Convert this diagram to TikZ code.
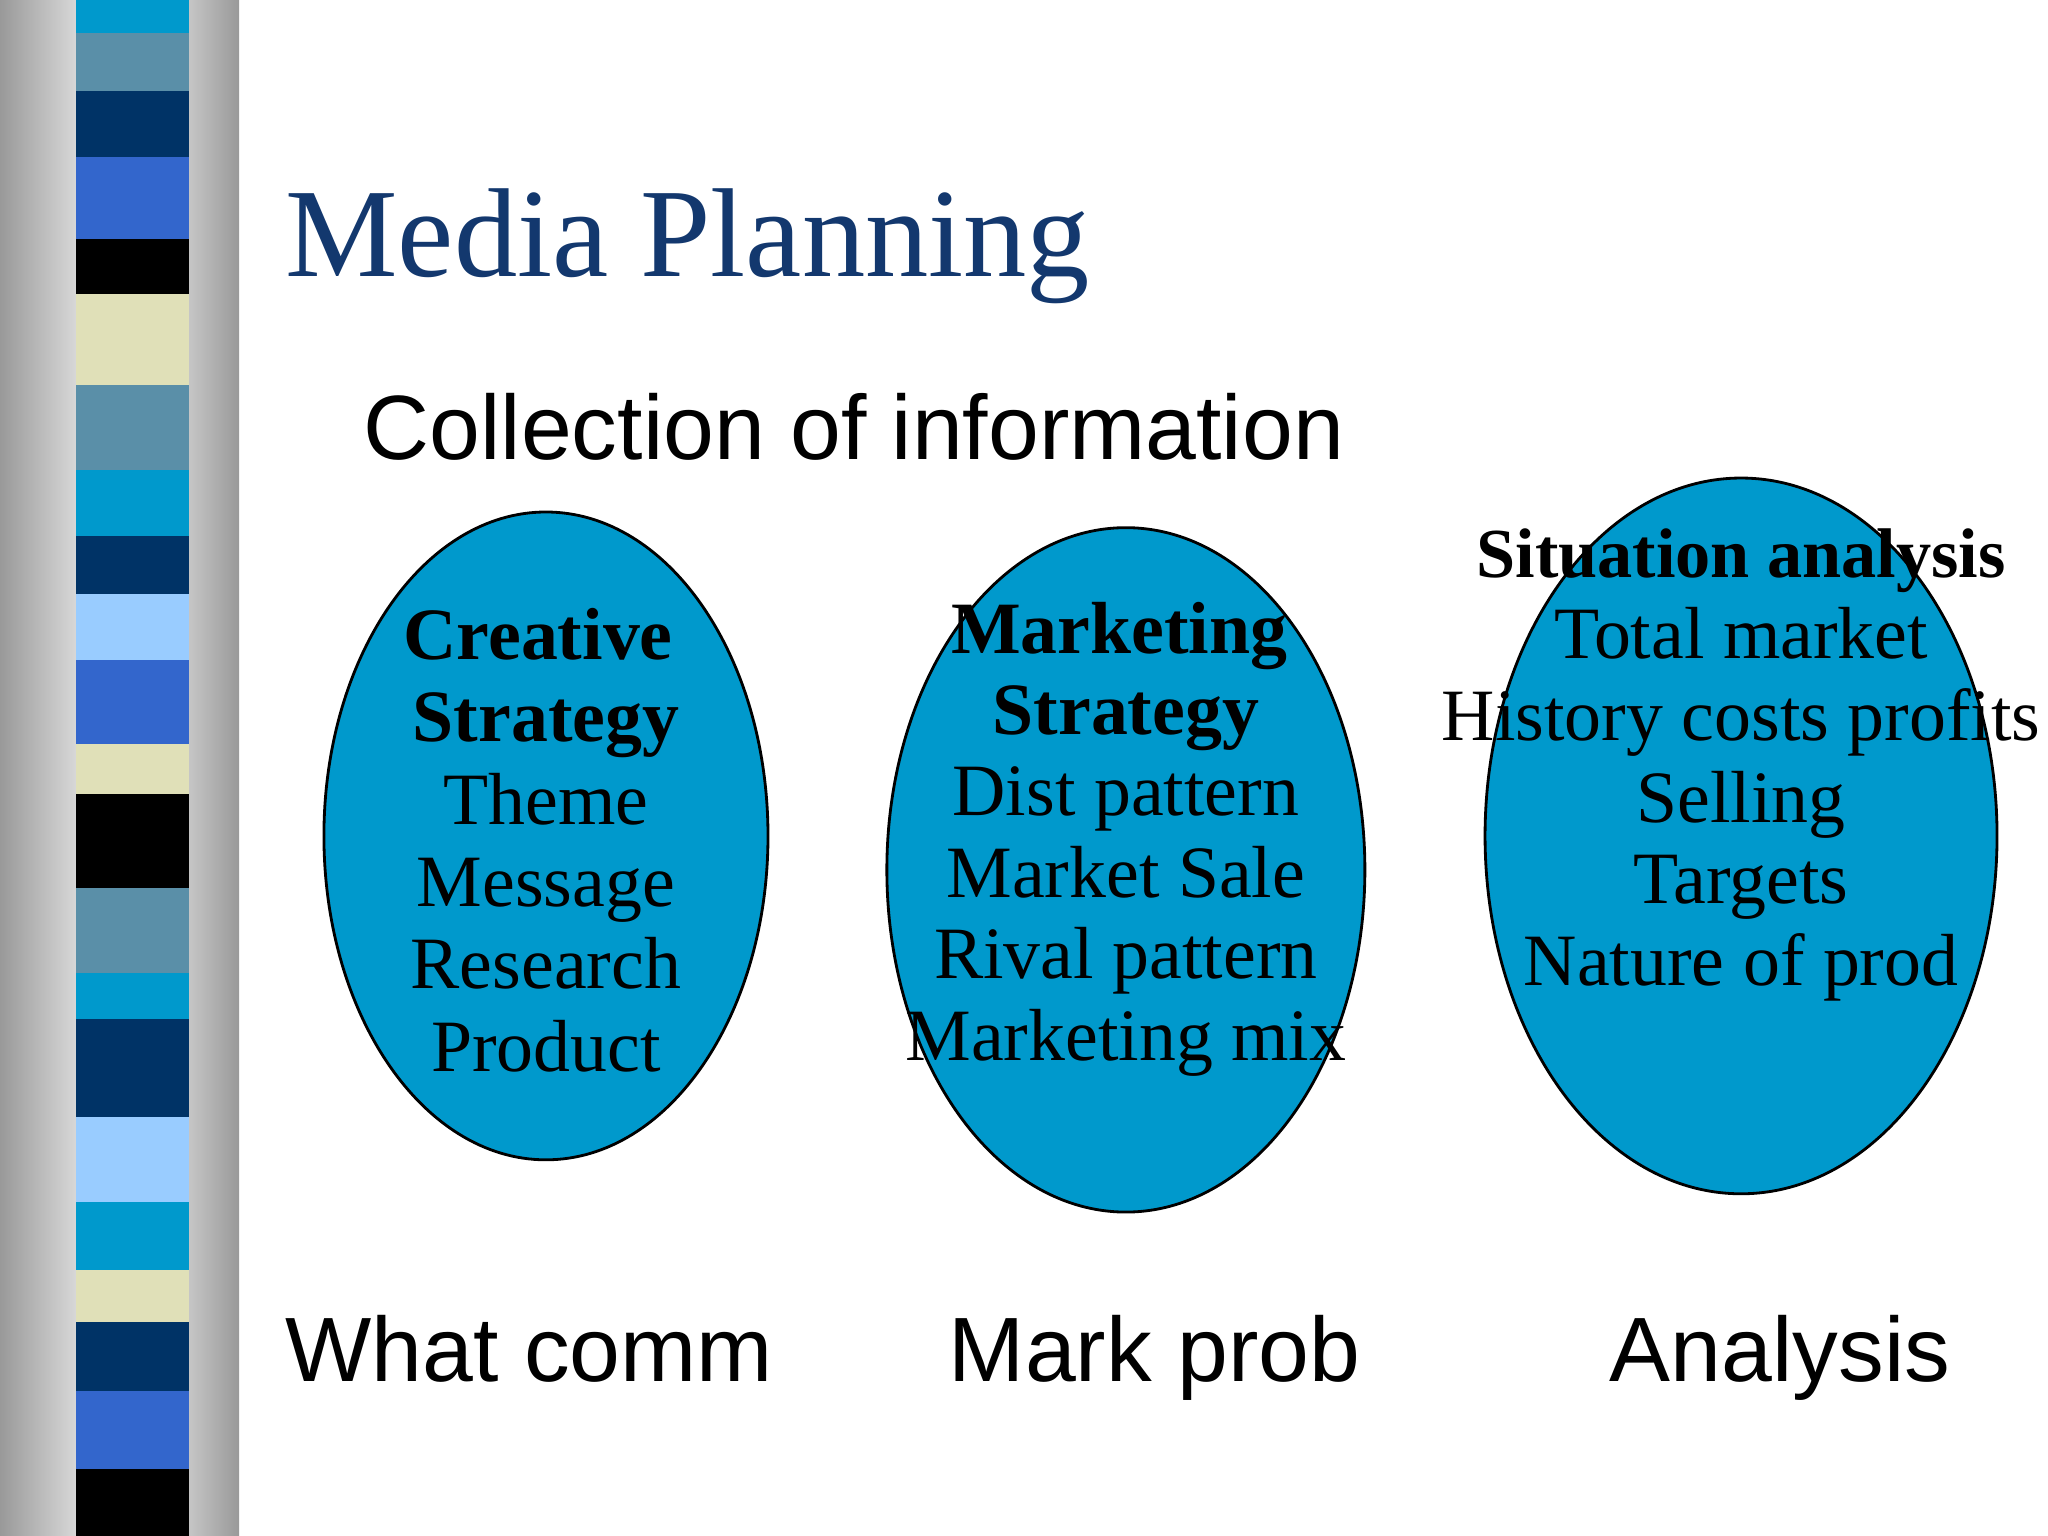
\documentclass[tikz,border=0pt]{standalone}
\usepackage{fontspec}
\setmainfont{Liberation Serif}
\setsansfont{Liberation Sans}
\definecolor{cyanb}{HTML}{0099CC}
\definecolor{greyb}{HTML}{5A8FA8}
\definecolor{navyb}{HTML}{003366}
\definecolor{blueb}{HTML}{3366CC}
\definecolor{lightb}{HTML}{99CCFF}
\definecolor{beigeb}{HTML}{E0E0B8}
\definecolor{titleb}{HTML}{13386E}
\tikzset{
  blob/.style={draw=black, fill=cyanb, line width=0.8pt},
  inner/.style={font=\fontsize{21}{21}\selectfont, anchor=base, inner sep=0pt},
  caption/.style={font=\sffamily\fontsize{26}{26}\selectfont, anchor=base west, inner sep=0pt}
}
\begin{document}
\begin{tikzpicture}[x=0.01306cm, y=-0.01306cm]
\useasboundingbox (0,0) rectangle (1568,1176);
% side bar
\shade[left color=gray!80, right color=white] (0,0) rectangle (95,1176);
\shade[left color=white, right color=gray!80] (95,0) rectangle (183,1176);
\foreach \ya/\yb/\c in {0/25/cyanb, 25/70/greyb, 70/120/navyb, 120/183/blueb,
  183/225/black, 225/295/beigeb, 295/360/greyb, 360/410/cyanb, 410/455/navyb,
  455/505/lightb, 505/570/blueb, 570/608/beigeb, 608/680/black, 680/745/greyb,
  745/780/cyanb, 780/855/navyb, 855/920/lightb, 920/972/cyanb, 972/1012/beigeb,
  1012/1065/navyb, 1065/1125/blueb, 1125/1176/black}
  \fill[\c] (58,\ya) rectangle (145,\yb);
% titles
\node[anchor=base west, inner sep=0pt, text=titleb, font=\fontsize{36}{36}\selectfont] (title) at (218,212) {Media Planning};
\node[caption] (sub) at (278,352) {Collection of information};
% ellipses
\draw[blob] (418,640) ellipse [x radius=170, y radius=248];
\draw[blob] (862,666) ellipse [x radius=183, y radius=262];
\draw[blob] (1333,640) ellipse [x radius=196, y radius=274];
% ellipse texts
\node[inner, font=\bfseries\fontsize{21}{21}\selectfont] (cs1) at (412,505) {Creative};
\node[inner, font=\bfseries\fontsize{21}{21}\selectfont] (cs2) at (418,568) {Strategy};
\foreach \t [count=\i] in {Theme, Message, Research, Product}
  \node[inner] (c\i) at (418,568+63*\i) {\t};
\node[inner, font=\bfseries\fontsize{21}{21}\selectfont] (ms1) at (857,500) {Marketing};
\node[inner, font=\bfseries\fontsize{21}{21}\selectfont] (ms2) at (862,562) {Strategy};
\foreach \t [count=\i] in {Dist pattern, Market Sale, Rival pattern, Marketing mix}
  \node[inner] (m\i) at (862,562+62.5*\i) {\t};
\node[inner, font=\bfseries\fontsize{20}{20}\selectfont] (sa) at (1333,442) {Situation analysis};
\foreach \t [count=\i] in {Total market, History costs profits, Selling, Targets, Nature of prod}
  \node[inner] (s\i) at (1333,442+62.5*\i) {\t};
% captions
\node[caption] (what) at (218,1058) {What comm};
\node[caption] (mark) at (726,1058) {Mark prob};
\node[caption] (ana) at (1232,1058) {Analysis};
\end{tikzpicture}
\end{document}
